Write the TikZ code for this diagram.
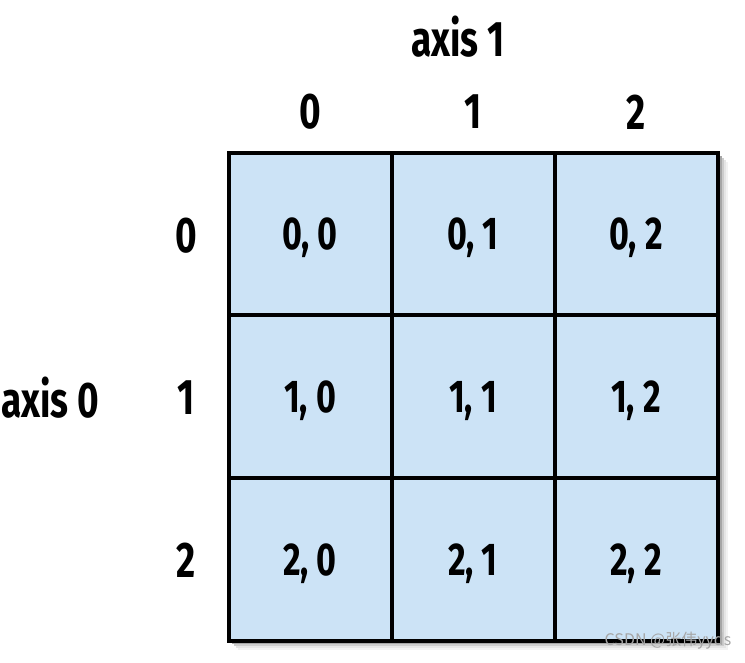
\documentclass[tikz,border=0pt]{standalone}
\usepackage{fontspec}
\setmainfont{Fira Sans}[FakeStretch=0.74,BoldFont={Fira Sans Bold}]
\newfontfamily\cjk{Noto Sans CJK SC}
\definecolor{cellblue}{RGB}{204,227,246}
\tikzset{
  cell/.style={draw=black,line width=4pt,fill=cellblue,minimum width=163pt,minimum height=163pt,inner sep=0pt},
  celltxt/.style={font=\bfseries\fontsize{46}{46}\selectfont,inner sep=0pt},
  lbl/.style={font=\bfseries\fontsize{50}{50}\selectfont,inner sep=0pt}
}
\begin{document}
\begin{tikzpicture}[x=1pt,y=-1pt]
\useasboundingbox (0,0) rectangle (745,662);
% shadow
\foreach \o/\c in {10/5,8/10,6/20,4/35} {
  \fill[black!\c] (228+\o,152+\o) rectangle (718+\o,640+\o);
}
\foreach \r in {0,1,2} {
  \foreach \c in {0,1,2} {
    \node[cell] (c\r\c) at (310+163*\c,234+162.7*\r) {};
    \node[celltxt] (t\r\c) at ([yshift=-4pt]c\r\c.center) {\r, \c};
  }
}
\foreach \c in {0,1,2} {
  \node[lbl] (col\c) at (310+163*\c,112) {\c};
}
\foreach \r in {0,1,2} {
  \node[lbl] (row\r) at (186,236+162*\r) {\r};
}
\node[lbl] (ax1) at (458,37) {axis 1};
\node[lbl] (ax0) at (50,398) {axis 0};
\node[font=\cjk\fontsize{16}{16}\selectfont,text=black!35,inner sep=0pt] (wm) at (668,641) {CSDN @张伟yyds};
\end{tikzpicture}
\end{document}
